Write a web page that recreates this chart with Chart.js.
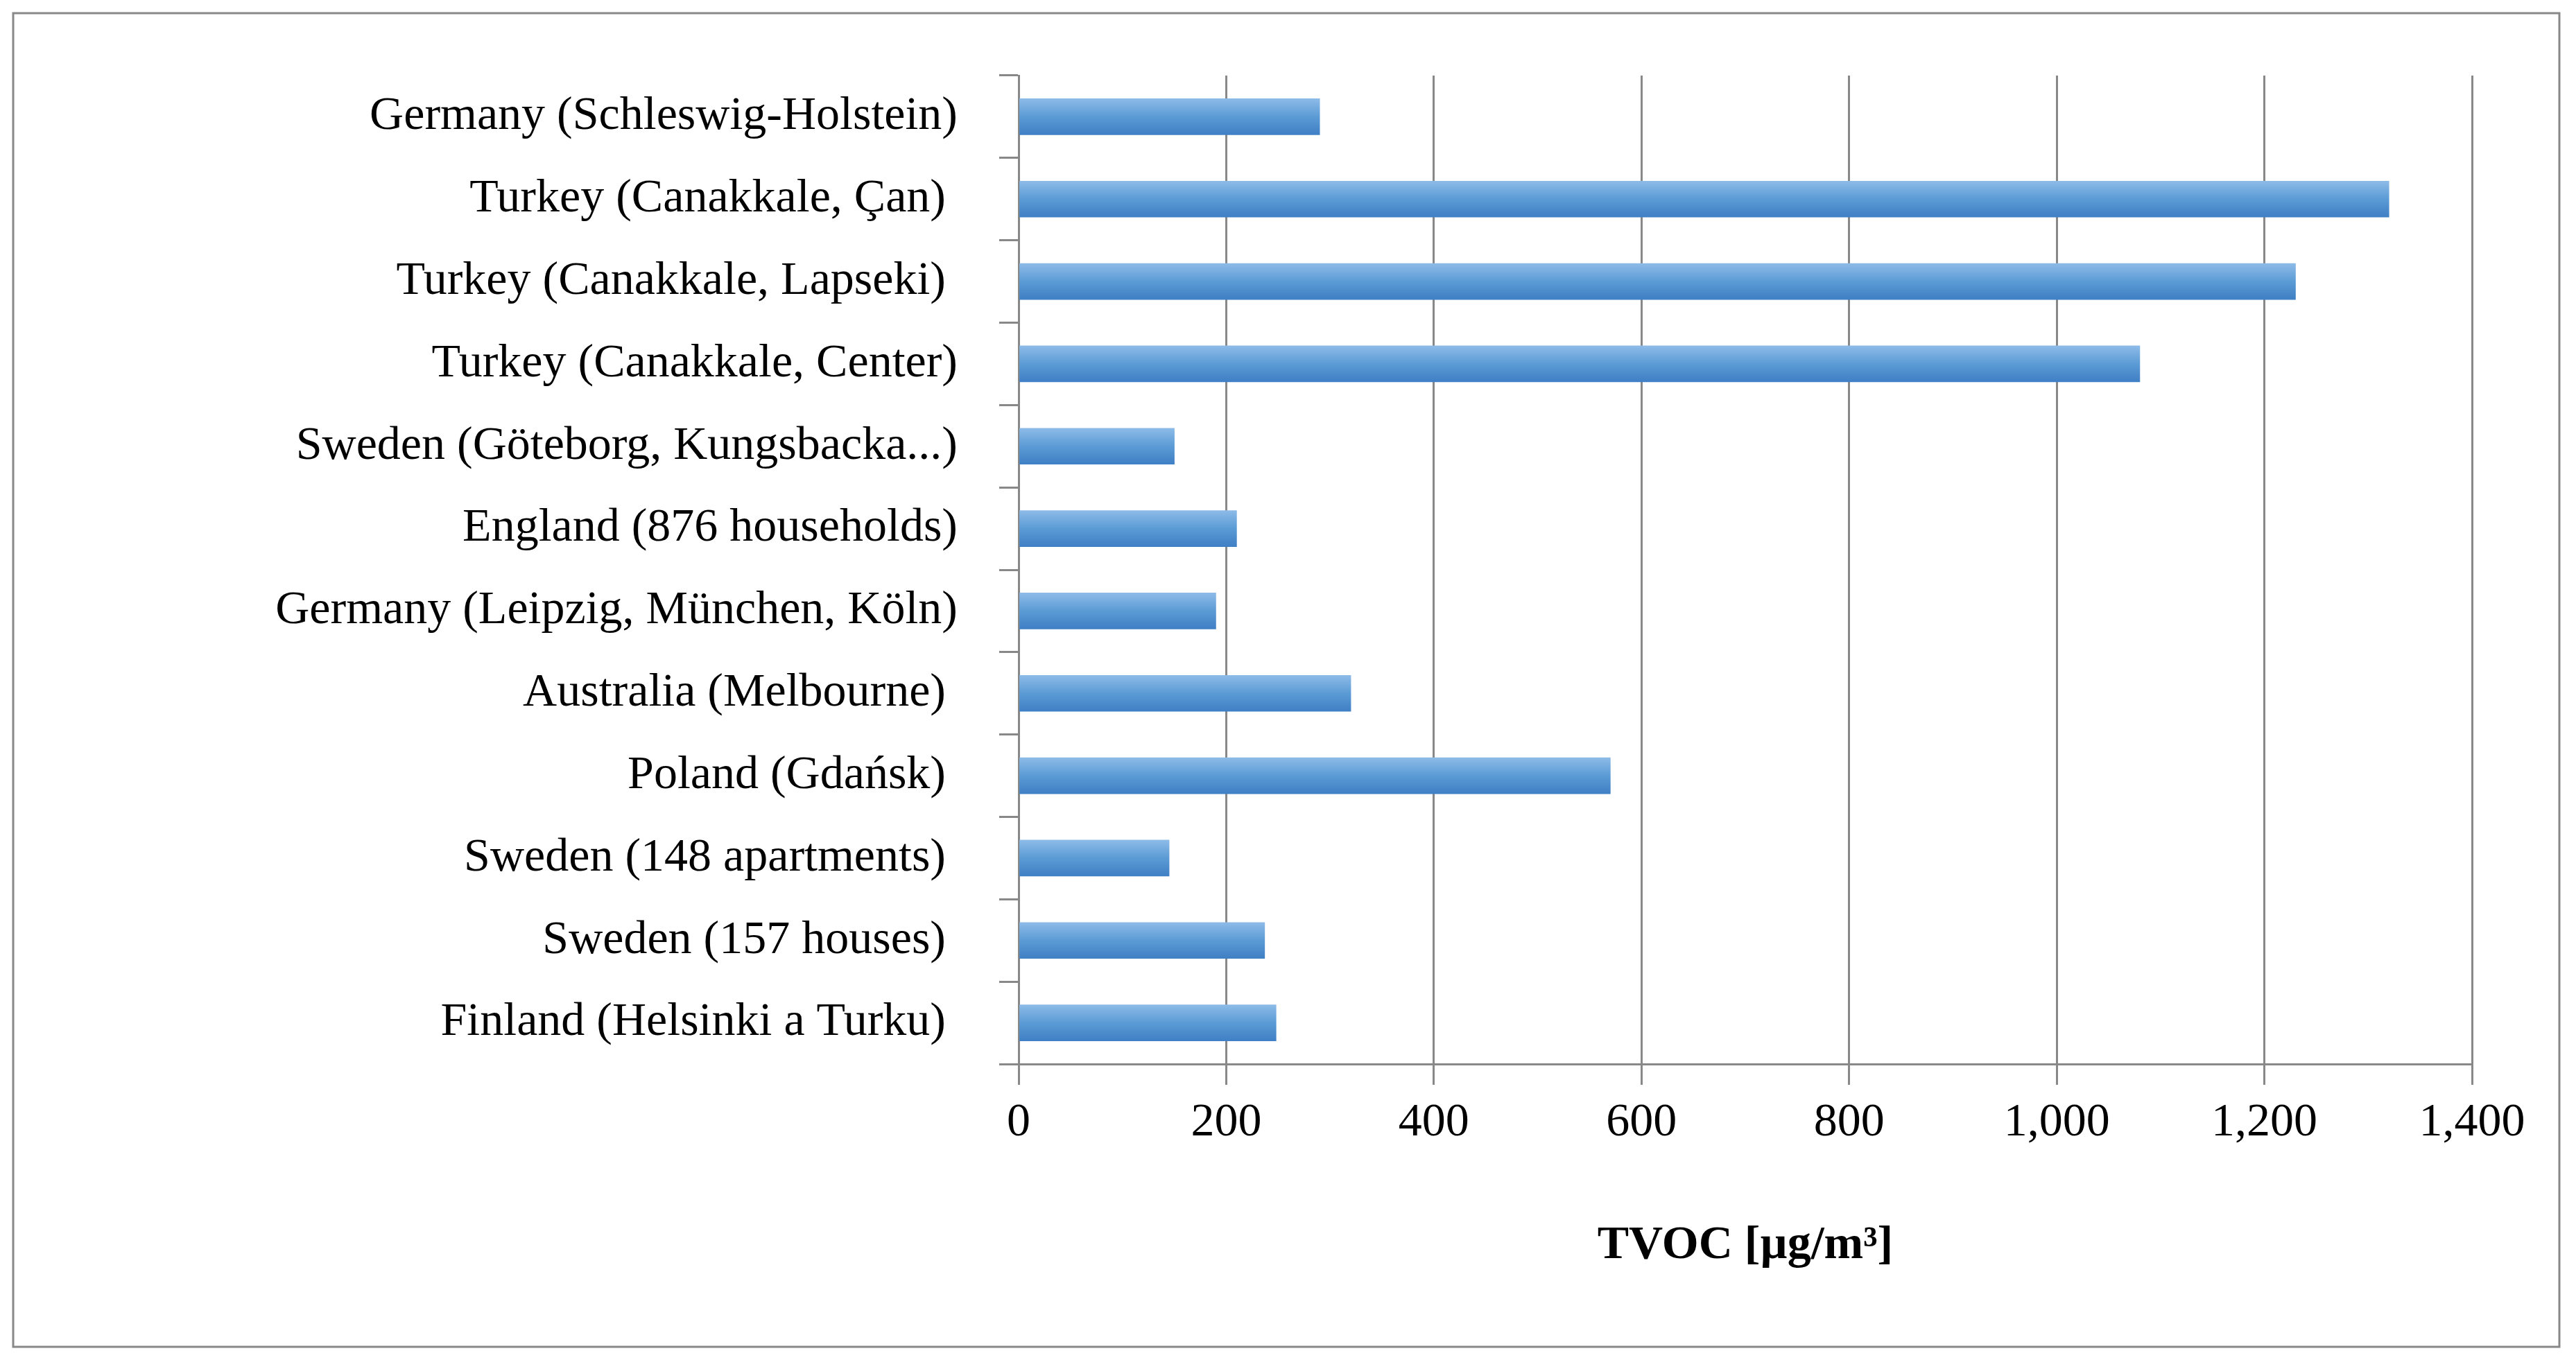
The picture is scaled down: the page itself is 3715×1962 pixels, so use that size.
<!DOCTYPE html>
<html>
<head>
<meta charset="utf-8">
<script src="https://cdn.jsdelivr.net/npm/chart.js@4"></script>
<style>
  html, body { margin: 0; padding: 0; background: #fff; }
  #wrap { width: 3715px; height: 1962px; }
</style>
</head>
<body>
<div id="wrap"><canvas id="tvoc"></canvas></div>
<script>
const locations = [
  "Germany (Schleswig-Holstein)",
  "Turkey (Canakkale, Çan) ",
  "Turkey (Canakkale, Lapseki) ",
  "Turkey (Canakkale, Center)",
  "Sweden (Göteborg, Kungsbacka...)",
  "England (876 households)",
  "Germany (Leipzig, München, Köln)",
  "Australia (Melbourne) ",
  "Poland (Gdańsk) ",
  "Sweden (148 apartments) ",
  "Sweden (157 houses) ",
  "Finland (Helsinki a Turku) "
];
const tvoc = [290, 1320, 1230, 1080, 150, 210, 190, 320, 570, 145, 237, 248];

const BAR = 52;
const FONT = "'Liberation Serif', 'DejaVu Serif', serif";

function barFill(context) {
  const chart = context.chart;
  const y = chart.scales.y;
  if (!y || context.dataIndex === undefined) return "#5b9bd5";
  const c = y.getPixelForValue(context.dataIndex);
  if (!isFinite(c)) return "#5b9bd5";
  const g = chart.ctx.createLinearGradient(0, c - BAR / 2, 0, c + BAR / 2);
  g.addColorStop(0, "#8dbbe8");
  g.addColorStop(0.5, "#5b9bd5");
  g.addColorStop(1, "#3f7fc4");
  return g;
}

const frame = {
  id: "frame",
  afterDraw(chart) {
    const ctx = chart.ctx;
    ctx.save();
    ctx.strokeStyle = "#888";
    ctx.lineWidth = 3;
    ctx.strokeRect(19, 19, 3672, 1924);
    ctx.restore();
  }
};

new Chart(document.getElementById("tvoc"), {
  type: "bar",
  data: {
    labels: locations,
    datasets: [{
      data: tvoc,
      backgroundColor: barFill,
      barThickness: BAR,
      borderWidth: 0
    }]
  },
  options: {
    indexAxis: "y",
    responsive: true,
    maintainAspectRatio: false,
    animation: false,
    layout: { padding: { top: 109, right: 150, bottom: 120, left: 0 } },
    plugins: { legend: { display: false }, tooltip: { enabled: false } },
    scales: {
      x: {
        min: 0,
        max: 1400,
        ticks: { stepSize: 200, color: "#000", padding: 14, font: { family: FONT, size: 68 } },
        grid: { color: "#888", lineWidth: 3, tickLength: 30 },
        border: { color: "#888", width: 3 },
        title: { display: true, text: "TVOC [µg/m³]", color: "#000", font: { family: FONT, size: 68, weight: "bold" } },
        afterFit(scale) { scale.height = 307; }
      },
      y: {
        ticks: { color: "#000", padding: 60, font: { family: FONT, size: 68 } },
        grid: { offset: true, drawOnChartArea: false, color: "#888", lineWidth: 3, tickLength: 28 },
        border: { color: "#888", width: 3 },
        afterFit(scale) { scale.width = 1469; }
      }
    }
  },
  plugins: [frame]
});
</script>
</body>
</html>
